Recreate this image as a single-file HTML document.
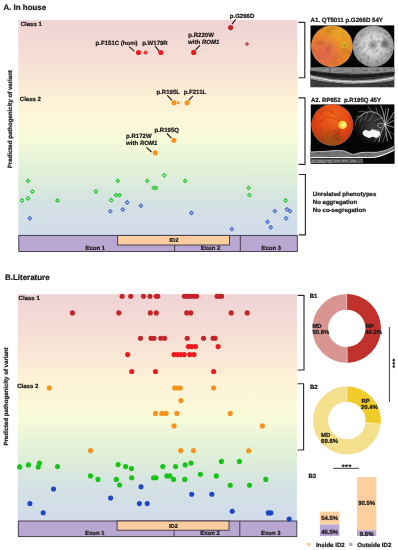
<!DOCTYPE html>
<html lang="en"><head><meta charset="utf-8"><title>Figure</title>
<style>html,body{margin:0;padding:0;background:#fff}svg{display:block}text{font-family:"Liberation Sans",Arial,sans-serif;text-rendering:geometricPrecision}</style>
</head><body>
<svg width="398" height="550" viewBox="0 0 398 550">
<defs>
<linearGradient id="bg" x1="0" y1="0" x2="0" y2="1">
<stop offset="0" stop-color="#f0d3d5"/>
<stop offset="0.19" stop-color="#f5dfd5"/>
<stop offset="0.37" stop-color="#fdf1d6"/>
<stop offset="0.53" stop-color="#f9fbd9"/>
<stop offset="0.70" stop-color="#e0f1d7"/>
<stop offset="0.84" stop-color="#d5e2e2"/>
<stop offset="1" stop-color="#d1dbec"/>
</linearGradient>
<radialGradient id="f1" cx="0.45" cy="0.55" r="0.6">
<stop offset="0" stop-color="#e8763a"/><stop offset="0.6" stop-color="#ea7e28"/><stop offset="1" stop-color="#e48824"/></radialGradient>
<radialGradient id="f1b" cx="0.72" cy="0.18" r="0.62">
<stop offset="0" stop-color="#e8ac24" stop-opacity="0.85"/><stop offset="1" stop-color="#e6b020" stop-opacity="0"/></radialGradient>
<radialGradient id="f1c" cx="0.3" cy="0.7" r="0.5">
<stop offset="0" stop-color="#e06050" stop-opacity="0.85"/><stop offset="1" stop-color="#e06458" stop-opacity="0"/></radialGradient>
<radialGradient id="g1" cx="0.5" cy="0.47" r="0.52">
<stop offset="0" stop-color="#dedede"/><stop offset="0.45" stop-color="#d4d4d4"/><stop offset="0.72" stop-color="#b0b0b0"/><stop offset="1" stop-color="#909090"/></radialGradient>
<radialGradient id="f2" cx="0.52" cy="0.32" r="0.72">
<stop offset="0" stop-color="#f26a1c"/><stop offset="0.5" stop-color="#e84a16"/><stop offset="1" stop-color="#c02c0e"/></radialGradient>
<radialGradient id="f2b" cx="0.45" cy="0.95" r="0.45">
<stop offset="0" stop-color="#8a5a1c" stop-opacity="0.85"/><stop offset="1" stop-color="#8a5a1c" stop-opacity="0"/></radialGradient>
<radialGradient id="od2" cx="0.68" cy="0.5" r="0.6">
<stop offset="0" stop-color="#ffffff"/><stop offset="0.28" stop-color="#fdec66"/><stop offset="0.75" stop-color="#f8c62c"/><stop offset="1" stop-color="#f09020" stop-opacity="0"/></radialGradient>
<radialGradient id="ang" cx="0.5" cy="0.5" r="0.5">
<stop offset="0" stop-color="#3c3c3c"/><stop offset="0.55" stop-color="#262626"/><stop offset="1" stop-color="#050505"/></radialGradient>
<filter id="bl1" x="-20%" y="-20%" width="140%" height="140%"><feGaussianBlur stdDeviation="0.6"/></filter>
<filter id="bl2" x="-20%" y="-20%" width="140%" height="140%"><feGaussianBlur stdDeviation="1.1"/></filter>
<filter id="bl3" x="-5%" y="-5%" width="110%" height="110%"><feGaussianBlur stdDeviation="0.35"/></filter>
<filter id="tex" x="0" y="0" width="100%" height="100%" color-interpolation-filters="sRGB"><feTurbulence type="fractalNoise" baseFrequency="0.3" numOctaves="2" seed="7" result="n"/><feColorMatrix in="n" type="matrix" values="0.8 0 0 0 0.6  0.8 0 0 0 0.6  0.8 0 0 0 0.6  0 0 0 0 1" result="n2"/><feBlend in="SourceGraphic" in2="n2" mode="multiply" result="b"/><feComposite in="b" in2="SourceGraphic" operator="in"/></filter>
<filter id="tex2" x="0" y="0" width="100%" height="100%" color-interpolation-filters="sRGB"><feTurbulence type="fractalNoise" baseFrequency="0.25 0.6" numOctaves="2" seed="11" result="n"/><feColorMatrix in="n" type="matrix" values="1.0 0 0 0 0.5  1.0 0 0 0 0.5  1.0 0 0 0 0.5  0 0 0 0 1" result="n2"/><feBlend in="SourceGraphic" in2="n2" mode="multiply" result="b"/><feComposite in="b" in2="SourceGraphic" operator="in"/></filter>
<filter id="tex3" x="0" y="0" width="100%" height="100%" color-interpolation-filters="sRGB"><feTurbulence type="fractalNoise" baseFrequency="0.12" numOctaves="2" seed="5" result="n"/><feColorMatrix in="n" type="matrix" values="0.4 0 0 0 0.8  0.4 0 0 0 0.8  0.4 0 0 0 0.8  0 0 0 0 1" result="n2"/><feBlend in="SourceGraphic" in2="n2" mode="multiply" result="b"/><feComposite in="b" in2="SourceGraphic" operator="in"/></filter>
<clipPath id="cA1"><rect x="310.3" y="25.2" width="84.2" height="62.2"/></clipPath>
<clipPath id="cA2"><rect x="310.5" y="104.2" width="84.1" height="59.6"/></clipPath>

</defs>
<text x="3.4" y="9.7" font-size="7.95" font-weight="bold" text-anchor="start" fill="#1a1718" stroke="#1a1718" stroke-width="0.22" >A. In house</text>
<text x="5.0" y="280.1" font-size="7.95" font-weight="bold" text-anchor="start" fill="#1a1718" stroke="#1a1718" stroke-width="0.22" >B.Literature</text>
<rect x="18.3" y="20.1" width="278.9" height="215.3" fill="url(#bg)"/>
<text x="20.7" y="26.2" font-size="6.05" font-weight="bold" text-anchor="start" fill="#1a1718" stroke="#1a1718" stroke-width="0.22" >Class 1</text>
<text x="19.8" y="100.6" font-size="6.05" font-weight="bold" text-anchor="start" fill="#1a1718" stroke="#1a1718" stroke-width="0.22" >Class 2</text>
<text transform="translate(11.9,119.2) rotate(-90)" font-size="6.1" stroke="#1a1718" stroke-width="0.22" font-weight="bold" text-anchor="middle" fill="#1a1718">Predicted pathogenicity of variant</text>
<g transform="translate(0.0,0)">
<rect x="18.8" y="235.4" width="278.5" height="16.099999999999994" fill="#b8a8d1" stroke="#3a3340" stroke-width="0.9"/>
<rect x="117.6" y="235.4" width="111.9" height="9.599999999999994" fill="#fccd9e" stroke="#3a3340" stroke-width="0.9"/>
<line x1="174.6" y1="245.0" x2="174.6" y2="251.5" stroke="#3a3340" stroke-width="0.9"/>
<line x1="240.3" y1="235.4" x2="240.3" y2="251.5" stroke="#3a3340" stroke-width="0.9"/>
<text x="173.9" y="241.9" font-size="5.8" font-weight="bold" text-anchor="middle" fill="#1a1718" stroke="#1a1718" stroke-width="0.22" >ID2</text>
<text x="95.3" y="249.9" font-size="5.95" font-weight="bold" text-anchor="middle" fill="#1a1718" stroke="#1a1718" stroke-width="0.22" >Exon 1</text>
<text x="210.6" y="249.9" font-size="5.95" font-weight="bold" text-anchor="middle" fill="#1a1718" stroke="#1a1718" stroke-width="0.22" >Exon 2</text>
<text x="271.3" y="249.9" font-size="5.95" font-weight="bold" text-anchor="middle" fill="#1a1718" stroke="#1a1718" stroke-width="0.22" >Exon 3</text>
</g>
<text x="95.6" y="45.4" font-size="6.05" font-weight="bold" text-anchor="start" fill="#1a1718" stroke="#1a1718" stroke-width="0.22" >p.F151C (hom)</text>
<text x="142.2" y="45.4" font-size="6.05" font-weight="bold" text-anchor="start" fill="#1a1718" stroke="#1a1718" stroke-width="0.22" >p.W179R</text>
<text x="188.3" y="37.1" font-size="6.05" font-weight="bold" text-anchor="start" fill="#1a1718" stroke="#1a1718" stroke-width="0.22" >p.R220W</text>
<text x="229.8" y="18.1" font-size="6.05" font-weight="bold" text-anchor="start" fill="#1a1718" stroke="#1a1718" stroke-width="0.22" >p.G266D</text>
<text x="156.5" y="94.4" font-size="6.05" font-weight="bold" text-anchor="start" fill="#1a1718" stroke="#1a1718" stroke-width="0.22" >p.R195L</text>
<text x="183.7" y="94.4" font-size="6.05" font-weight="bold" text-anchor="start" fill="#1a1718" stroke="#1a1718" stroke-width="0.22" >p.F211L</text>
<text x="154.5" y="131.5" font-size="6.05" font-weight="bold" text-anchor="start" fill="#1a1718" stroke="#1a1718" stroke-width="0.22" >p.R195Q</text>
<text x="126.1" y="138.1" font-size="6.05" font-weight="bold" text-anchor="start" fill="#1a1718" stroke="#1a1718" stroke-width="0.22" >p.R172W</text>
<text x="188.1" y="43.9" font-size="6.05" font-weight="bold" fill="#1a1718" stroke="#1a1718" stroke-width="0.22">with <tspan font-style="italic">ROM1</tspan></text>
<text x="126.1" y="144.8" font-size="6.05" font-weight="bold" fill="#1a1718" stroke="#1a1718" stroke-width="0.22">with <tspan font-style="italic">ROM1</tspan></text>
<line x1="129.2" y1="46.6" x2="134.2" y2="51.2" stroke="#1a1718" stroke-width="1.1"/>
<line x1="155.2" y1="46.2" x2="158.9" y2="50.8" stroke="#1a1718" stroke-width="1.1"/>
<line x1="200.0" y1="45.3" x2="195.5" y2="49.8" stroke="#1a1718" stroke-width="1.1"/>
<line x1="235.7" y1="19.4" x2="232.0" y2="24.2" stroke="#1a1718" stroke-width="1.1"/>
<line x1="167.3" y1="95.3" x2="171.9" y2="100.3" stroke="#1a1718" stroke-width="1.1"/>
<line x1="192.9" y1="95.9" x2="188.8" y2="100.4" stroke="#1a1718" stroke-width="1.1"/>
<line x1="166.8" y1="133.3" x2="171.3" y2="138.0" stroke="#1a1718" stroke-width="1.1"/>
<line x1="146.4" y1="147.4" x2="151.5" y2="152.0" stroke="#1a1718" stroke-width="1.1"/>
<circle cx="138.5" cy="52.5" r="2.55" fill="#ee1a1e"/>
<circle cx="160.8" cy="52.5" r="2.55" fill="#ee1a1e"/>
<circle cx="193.7" cy="52.4" r="2.55" fill="#ee1a1e"/>
<circle cx="230.6" cy="27.6" r="2.55" fill="#c22428"/>
<path d="M144.00 52.6L145.6 51.00L147.20 52.6L145.6 54.20Z" fill="#fff" fill-opacity="0.6" stroke="#ee1a1e" stroke-width="1.15" stroke-linejoin="round"/>
<path d="M245.65 44.1L247 42.75L248.35 44.1L247 45.45Z" fill="#fff" fill-opacity="0.6" stroke="#c42c3c" stroke-width="1.1" stroke-linejoin="round"/>
<circle cx="173.9" cy="102.7" r="2.55" fill="#f8921c"/>
<circle cx="187.1" cy="102.7" r="2.55" fill="#f8921c"/>
<circle cx="173.9" cy="140.2" r="2.55" fill="#f8921c"/>
<circle cx="155.3" cy="152.7" r="2.55" fill="#f8921c"/>
<path d="M177.00 102.8L178.2 101.60L179.40 102.8L178.2 104.00Z" fill="#fff" fill-opacity="0.6" stroke="#f8921c" stroke-width="1.05" stroke-linejoin="round"/>
<path d="M116.10 180.9L117.8 179.20L119.50 180.9L117.8 182.60Z" fill="#fff" fill-opacity="0.6" stroke="#2fc83a" stroke-width="1.25" stroke-linejoin="round"/>
<path d="M145.50 180.9L147.2 179.20L148.90 180.9L147.2 182.60Z" fill="#fff" fill-opacity="0.6" stroke="#2fc83a" stroke-width="1.25" stroke-linejoin="round"/>
<path d="M162.60 175.3L164.29999999999998 173.60L166.00 175.3L164.29999999999998 177.00Z" fill="#fff" fill-opacity="0.6" stroke="#2fc83a" stroke-width="1.25" stroke-linejoin="round"/>
<path d="M183.40 180.9L185.1 179.20L186.80 180.9L185.1 182.60Z" fill="#fff" fill-opacity="0.6" stroke="#2fc83a" stroke-width="1.25" stroke-linejoin="round"/>
<path d="M152.00 187.9L153.7 186.20L155.40 187.9L153.7 189.60Z" fill="#fff" fill-opacity="0.6" stroke="#2fc83a" stroke-width="1.25" stroke-linejoin="round"/>
<path d="M154.30 187.9L156.0 186.20L157.70 187.9L156.0 189.60Z" fill="#fff" fill-opacity="0.6" stroke="#2fc83a" stroke-width="1.25" stroke-linejoin="round"/>
<path d="M114.30 195.2L116.0 193.50L117.70 195.2L116.0 196.90Z" fill="#fff" fill-opacity="0.6" stroke="#2fc83a" stroke-width="1.25" stroke-linejoin="round"/>
<path d="M117.80 195.2L119.5 193.50L121.20 195.2L119.5 196.90Z" fill="#fff" fill-opacity="0.6" stroke="#2fc83a" stroke-width="1.25" stroke-linejoin="round"/>
<path d="M109.60 200.2L111.3 198.50L113.00 200.2L111.3 201.90Z" fill="#fff" fill-opacity="0.6" stroke="#2fc83a" stroke-width="1.25" stroke-linejoin="round"/>
<path d="M26.40 180.9L28.099999999999998 179.20L29.80 180.9L28.099999999999998 182.60Z" fill="#fff" fill-opacity="0.6" stroke="#2fc83a" stroke-width="1.25" stroke-linejoin="round"/>
<path d="M30.70 191.5L32.400000000000006 189.80L34.10 191.5L32.400000000000006 193.20Z" fill="#fff" fill-opacity="0.6" stroke="#2fc83a" stroke-width="1.25" stroke-linejoin="round"/>
<path d="M26.40 198.5L28.099999999999998 196.80L29.80 198.5L28.099999999999998 200.20Z" fill="#fff" fill-opacity="0.6" stroke="#2fc83a" stroke-width="1.25" stroke-linejoin="round"/>
<path d="M20.40 200.5L22.099999999999998 198.80L23.80 200.5L22.099999999999998 202.20Z" fill="#fff" fill-opacity="0.6" stroke="#2fc83a" stroke-width="1.25" stroke-linejoin="round"/>
<path d="M55.80 200.5L57.5 198.80L59.20 200.5L57.5 202.20Z" fill="#fff" fill-opacity="0.6" stroke="#2fc83a" stroke-width="1.25" stroke-linejoin="round"/>
<path d="M94.20 191.5L95.9 189.80L97.60 191.5L95.9 193.20Z" fill="#fff" fill-opacity="0.6" stroke="#2fc83a" stroke-width="1.25" stroke-linejoin="round"/>
<path d="M247.00 187.9L248.7 186.20L250.40 187.9L248.7 189.60Z" fill="#fff" fill-opacity="0.6" stroke="#2fc83a" stroke-width="1.25" stroke-linejoin="round"/>
<path d="M247.70 195.2L249.39999999999998 193.50L251.10 195.2L249.39999999999998 196.90Z" fill="#fff" fill-opacity="0.6" stroke="#2fc83a" stroke-width="1.25" stroke-linejoin="round"/>
<path d="M283.90 200.5L285.59999999999997 198.80L287.30 200.5L285.59999999999997 202.20Z" fill="#fff" fill-opacity="0.6" stroke="#2fc83a" stroke-width="1.25" stroke-linejoin="round"/>
<path d="M125.40 202.5L127.10000000000001 200.80L128.80 202.5L127.10000000000001 204.20Z" fill="#fff" fill-opacity="0.6" stroke="#4a6ac8" stroke-width="1.25" stroke-linejoin="round"/>
<path d="M139.20 205.7L140.89999999999998 204.00L142.60 205.7L140.89999999999998 207.40Z" fill="#fff" fill-opacity="0.6" stroke="#4a6ac8" stroke-width="1.25" stroke-linejoin="round"/>
<path d="M121.10 209.5L122.8 207.80L124.50 209.5L122.8 211.20Z" fill="#fff" fill-opacity="0.6" stroke="#4a6ac8" stroke-width="1.25" stroke-linejoin="round"/>
<path d="M108.60 211.3L110.3 209.60L112.00 211.3L110.3 213.00Z" fill="#fff" fill-opacity="0.6" stroke="#4a6ac8" stroke-width="1.25" stroke-linejoin="round"/>
<path d="M189.70 213L191.39999999999998 211.30L193.10 213L191.39999999999998 214.70Z" fill="#fff" fill-opacity="0.6" stroke="#4a6ac8" stroke-width="1.25" stroke-linejoin="round"/>
<path d="M28.10 218.3L29.8 216.60L31.50 218.3L29.8 220.00Z" fill="#fff" fill-opacity="0.6" stroke="#4a6ac8" stroke-width="1.25" stroke-linejoin="round"/>
<path d="M273.10 211.1L274.8 209.40L276.50 211.1L274.8 212.80Z" fill="#fff" fill-opacity="0.6" stroke="#4a6ac8" stroke-width="1.25" stroke-linejoin="round"/>
<path d="M285.20 209.3L286.9 207.60L288.60 209.3L286.9 211.00Z" fill="#fff" fill-opacity="0.6" stroke="#4a6ac8" stroke-width="1.25" stroke-linejoin="round"/>
<path d="M288.40 211.1L290.09999999999997 209.40L291.80 211.1L290.09999999999997 212.80Z" fill="#fff" fill-opacity="0.6" stroke="#4a6ac8" stroke-width="1.25" stroke-linejoin="round"/>
<path d="M284.40 218.3L286.09999999999997 216.60L287.80 218.3L286.09999999999997 220.00Z" fill="#fff" fill-opacity="0.6" stroke="#4a6ac8" stroke-width="1.25" stroke-linejoin="round"/>
<path d="M265.80 221.9L267.5 220.20L269.20 221.9L267.5 223.60Z" fill="#fff" fill-opacity="0.6" stroke="#4a6ac8" stroke-width="1.25" stroke-linejoin="round"/>
<path d="M269.10 227.4L270.8 225.70L272.50 227.4L270.8 229.10Z" fill="#fff" fill-opacity="0.6" stroke="#4a6ac8" stroke-width="1.25" stroke-linejoin="round"/>
<path d="M230.20 229.1L231.89999999999998 227.40L233.60 229.1L231.89999999999998 230.80Z" fill="#fff" fill-opacity="0.6" stroke="#4a6ac8" stroke-width="1.25" stroke-linejoin="round"/>
<path d="M298.4 22.3H304.8V77.7H298.4" fill="none" stroke="#2e2a2c" stroke-width="1.15"/>
<path d="M298.5 97.8H305.0V164.4H298.5" fill="none" stroke="#2e2a2c" stroke-width="1.15"/>
<path d="M298.8 174.5H305.4V234.8H298.8" fill="none" stroke="#2e2a2c" stroke-width="1.15"/>
<text x="310.6" y="22.4" font-size="6.15" font-weight="bold" text-anchor="start" fill="#1a1718" stroke="#1a1718" stroke-width="0.22" >A1. QT5011 p.G266D 54Y</text>
<g clip-path="url(#cA1)">
<rect x="310.3" y="25.2" width="84.2" height="62.2" fill="#050505"/>
<g filter="url(#tex3)">
<circle cx="332" cy="46.2" r="20.7" fill="url(#f1)"/>
<circle cx="332" cy="46.2" r="20.7" fill="url(#f1b)"/>
<circle cx="332" cy="46.2" r="20.7" fill="url(#f1c)"/>
</g>
<circle cx="344.1" cy="44.9" r="2.9" fill="#deb21c" filter="url(#bl1)"/>
<circle cx="344.5" cy="45.2" r="1.5" fill="#8f9a34" filter="url(#bl3)"/>
<g filter="url(#tex)">
<circle cx="373.3" cy="46.3" r="20.5" fill="url(#g1)"/>
</g>
<circle cx="372.9" cy="44.9" r="4.3" fill="#9a9a9a" filter="url(#bl2)"/>
<circle cx="372.9" cy="44.9" r="1.0" fill="#6a6a6a" filter="url(#bl1)"/>
<circle cx="385.0" cy="43.9" r="3.8" fill="#6e6e6e" filter="url(#bl2)"/>
<g filter="url(#tex2)">
<rect x="310.3" y="67.6" width="84.2" height="19.8" fill="#3c3c3c"/>
<path d="M310 67.6H395V71.5Q352 76.5 310 70.5Z" fill="#8a8a8a" filter="url(#bl3)"/>
<path d="M310 71Q352 78 395 72V74.5Q352 81.5 310 74Z" fill="#1e1e1e" filter="url(#bl1)"/>
<path d="M310 75Q352 85 395 76V80Q352 88 310 79Z" fill="#9a9a9a" filter="url(#bl1)"/>
</g>
<path d="M310 76.6Q352 87.0 395 77.8" fill="none" stroke="#e4e4e4" stroke-width="1.0" filter="url(#bl3)"/>
</g>
<text x="311" y="101.9" font-size="6.05" font-weight="bold" text-anchor="start" fill="#1a1718" stroke="#1a1718" stroke-width="0.22" xml:space="preserve">A2. RP852  p.R195Q 45Y</text>
<g clip-path="url(#cA2)">
<rect x="310.5" y="104.2" width="84.1" height="59.6" fill="#050505"/>
<g filter="url(#tex3)">
<circle cx="332.3" cy="124.9" r="20.8" fill="url(#f2)"/>
<circle cx="332.3" cy="124.9" r="20.8" fill="url(#f2b)"/>
</g>
<path d="M344 125Q340 133 330 139M344 125Q338 131 325 134M344 124Q340 116 330 111M344 124Q337 118 326 117" fill="none" stroke="#a8260a" stroke-width="0.55" opacity="0.75"/>
<ellipse cx="341.7" cy="124.9" rx="5.2" ry="4.4" fill="url(#od2)"/>
<circle cx="373" cy="125.5" r="19.5" fill="url(#ang)"/>
<g fill="none" stroke="#e6e6e6" stroke-width="0.62" stroke-linecap="round" filter="url(#bl3)">
<path d="M385.0 124.7Q382.6 118.1 380.1 115.7Q377.7 113.3 374.7 112.4Q371.7 111.5 368.7 111.8Q365.7 112.1 363.3 113.9Q360.9 115.7 357.2 119.3"/>
<path d="M385.0 124.7Q384.4 116.9 383.5 113.3Q382.6 109.7 380.8 105.4"/>
<path d="M385.0 124.7Q387.4 116.9 388.6 108.4"/>
<path d="M385.0 124.7Q391.0 118.1 394.0 112.1"/>
<path d="M385.0 124.7Q389.8 122.9 394.1 120.5"/>
<path d="M385.0 124.7Q389.8 125.9 394.1 127.5"/>
<path d="M385.0 124.7Q388.6 131.4 391.6 138.6"/>
<path d="M385.0 124.7Q386.2 132.6 387.4 141.0"/>
<path d="M385.0 124.7Q382.6 129.0 381.4 132.0Q380.2 135.0 379.0 141.6"/>
<path d="M385.0 124.7Q381.6 122.9 379.8 123.2Q378.0 123.6 377.8 124.9Q377.5 126.3 378.9 127.2Q380.2 128.0 381.4 127.4Q382.6 126.8 383.2 125.1"/>
</g>
<g fill="none" stroke="#bdbdbd" stroke-width="0.42" stroke-linecap="round" filter="url(#bl3)">
<path d="M377.7 113.3Q376.8 110.3 375.9 107.0"/>
<path d="M371.7 111.5Q369.9 109.0 368.1 106.3"/>
<path d="M365.7 112.1Q362.1 110.6 358.4 111.8"/>
<path d="M360.9 115.7Q358.4 116.3 355.8 117.1"/>
<path d="M368.1 111.8Q367.1 115.7 364.5 119.9"/>
<path d="M374.1 112.1Q372.9 116.3 369.3 120.5"/>
<path d="M382.6 118.1Q379.0 118.1 374.7 120.5"/>
<path d="M384.4 116.9Q386.2 112.1 385.9 107.2"/>
<path d="M391.0 118.1Q392.5 116.9 394.1 116.6"/>
<path d="M388.6 131.4Q391.6 132.6 394.1 135.0"/>
<path d="M382.6 129.0Q378.3 130.2 374.1 129.7"/>
<path d="M380.2 135.0Q377.1 138.6 374.1 141.6"/>
<path d="M386.2 132.6Q384.4 137.4 382.6 142.2"/>
<path d="M357.2 119.3Q355.4 122.3 354.8 125.3"/>
<path d="M363.3 113.5Q361.5 118.1 359.7 122.3"/>
</g>
<path d="M363.0 132.3 L365.1 130.2 L369.3 131.6 L372.3 129.7 L375.9 130.9 L379.3 131.6 L379.8 134.4 L378.0 136.8 L375.3 137.6 L372.3 136.2 L369.3 137.6 L365.7 136.2 L363.5 134.7Z" fill="#f6f6f6" stroke="#f6f6f6" stroke-width="1" stroke-linejoin="round" filter="url(#bl1)"/>
<circle cx="374.1" cy="137.8" r="0.9" fill="#1a1a1a" filter="url(#bl3)"/>
<rect x="310.5" y="145.7" width="84.1" height="18.1" fill="#060606"/>
<g filter="url(#tex2)">
<path d="M310 151.9Q326 151.6 338 150.3Q345 150.4 349 153Q353 155.6 356.5 153.6Q360 152.2 366 152.3H377Q386 151.2 394.6 146.2V150.2Q384 155.5 373.5 157.2H310Z" fill="#767676" filter="url(#bl3)"/>
<rect x="311" y="158.8" width="52" height="3.9" fill="#5c5c5c" filter="url(#bl3)"/>
</g>
<path d="M310 157.5H373.5Q384 156 394.6 149.8" fill="none" stroke="#f2f2f2" stroke-width="1.05" filter="url(#bl3)"/>
<path d="M310 151.9Q326 151.6 338 150.3Q345 150.4 349 153Q353 155.6 356.5 153.6Q360 152.2 366 152.3H377Q386 151.2 394.6 146.2" fill="none" stroke="#dadada" stroke-width="0.7" filter="url(#bl3)"/>
<path d="M312 160.2h4m1.5 0.6h7m2 -0.4h5m3 0.5h6m2 -0.3h5m3 0.3h5m-44 1.5h5m2 0h7m3 0h4" fill="none" stroke="#e0e0e0" stroke-width="0.8" stroke-dasharray="1.1 0.9" filter="url(#bl3)"/>
</g>
<text x="312.8" y="196.4" font-size="6.05" font-weight="bold" text-anchor="start" fill="#1a1718" stroke="#1a1718" stroke-width="0.22" >Unrelated phenotypes</text>
<text x="312.8" y="204.3" font-size="6.05" font-weight="bold" text-anchor="start" fill="#1a1718" stroke="#1a1718" stroke-width="0.22" >No aggregation</text>
<text x="312.8" y="212.4" font-size="6.05" font-weight="bold" text-anchor="start" fill="#1a1718" stroke="#1a1718" stroke-width="0.22" >No co-segregation</text>
<rect x="17.7" y="294.2" width="279.2" height="226.8" fill="url(#bg)"/>
<text x="18.6" y="300.3" font-size="6.05" font-weight="bold" text-anchor="start" fill="#1a1718" stroke="#1a1718" stroke-width="0.22" >Class 1</text>
<text x="17.2" y="388.0" font-size="6.05" font-weight="bold" text-anchor="start" fill="#1a1718" stroke="#1a1718" stroke-width="0.22" >Class 2</text>
<text transform="translate(8.2,396.5) rotate(-90)" font-size="6.1" stroke="#1a1718" stroke-width="0.22" font-weight="bold" text-anchor="middle" fill="#1a1718">Predicted pathogenicity of variant</text>
<g transform="translate(-0.5,0)">
<rect x="18.8" y="521.0" width="278.5" height="15.600000000000023" fill="#b8a8d1" stroke="#3a3340" stroke-width="0.9"/>
<rect x="117.6" y="521.0" width="111.9" height="9.200000000000045" fill="#fccd9e" stroke="#3a3340" stroke-width="0.9"/>
<line x1="174.6" y1="530.2" x2="174.6" y2="536.6" stroke="#3a3340" stroke-width="0.9"/>
<line x1="240.3" y1="521.0" x2="240.3" y2="536.6" stroke="#3a3340" stroke-width="0.9"/>
<text x="173.9" y="527.5" font-size="5.8" font-weight="bold" text-anchor="middle" fill="#1a1718" stroke="#1a1718" stroke-width="0.22" >ID2</text>
<text x="95.3" y="535.0" font-size="5.95" font-weight="bold" text-anchor="middle" fill="#1a1718" stroke="#1a1718" stroke-width="0.22" >Exon 1</text>
<text x="210.6" y="535.0" font-size="5.95" font-weight="bold" text-anchor="middle" fill="#1a1718" stroke="#1a1718" stroke-width="0.22" >Exon 2</text>
<text x="271.3" y="535.0" font-size="5.95" font-weight="bold" text-anchor="middle" fill="#1a1718" stroke="#1a1718" stroke-width="0.22" >Exon 3</text>
</g>
<circle cx="122.1" cy="296.3" r="2.55" fill="#c22428"/>
<circle cx="130.7" cy="296.3" r="2.55" fill="#c22428"/>
<circle cx="143.5" cy="296.3" r="2.55" fill="#c22428"/>
<circle cx="150" cy="296.3" r="2.55" fill="#c22428"/>
<circle cx="156.3" cy="296.3" r="2.55" fill="#c22428"/>
<circle cx="157.8" cy="296.3" r="2.55" fill="#c22428"/>
<circle cx="184.4" cy="296.3" r="2.55" fill="#c22428"/>
<circle cx="186.9" cy="296.3" r="2.55" fill="#c22428"/>
<circle cx="189.4" cy="296.3" r="2.55" fill="#c22428"/>
<circle cx="191.9" cy="296.3" r="2.55" fill="#c22428"/>
<circle cx="194.4" cy="296.3" r="2.55" fill="#c22428"/>
<circle cx="196.6" cy="296.3" r="2.55" fill="#c22428"/>
<circle cx="217.1" cy="296.3" r="2.55" fill="#c22428"/>
<circle cx="219.1" cy="296.3" r="2.55" fill="#c22428"/>
<circle cx="221.6" cy="296.3" r="2.55" fill="#c22428"/>
<circle cx="72.4" cy="312.9" r="2.55" fill="#c22428"/>
<circle cx="118.8" cy="312.9" r="2.55" fill="#c22428"/>
<circle cx="150.3" cy="312.9" r="2.55" fill="#c22428"/>
<circle cx="156.3" cy="312.9" r="2.55" fill="#c22428"/>
<circle cx="186.7" cy="312.9" r="2.55" fill="#c22428"/>
<circle cx="190.7" cy="312.9" r="2.55" fill="#c22428"/>
<circle cx="231.2" cy="312.9" r="2.55" fill="#c22428"/>
<circle cx="247.2" cy="312.9" r="2.55" fill="#c22428"/>
<circle cx="140.5" cy="338.3" r="2.55" fill="#c22428"/>
<circle cx="151" cy="338.3" r="2.55" fill="#c22428"/>
<circle cx="154" cy="338.3" r="2.55" fill="#c22428"/>
<circle cx="160.8" cy="338.3" r="2.55" fill="#c22428"/>
<circle cx="164.6" cy="338.3" r="2.55" fill="#c22428"/>
<circle cx="187.2" cy="338.3" r="2.55" fill="#c22428"/>
<circle cx="203.5" cy="338.3" r="2.55" fill="#c22428"/>
<circle cx="213.1" cy="338.3" r="2.55" fill="#c22428"/>
<circle cx="215.1" cy="338.3" r="2.55" fill="#c22428"/>
<circle cx="188.4" cy="346.6" r="2.55" fill="#ee1a1e"/>
<circle cx="191.7" cy="346.6" r="2.55" fill="#ee1a1e"/>
<circle cx="195.5" cy="346.6" r="2.55" fill="#ee1a1e"/>
<circle cx="218.1" cy="346.6" r="2.55" fill="#ee1a1e"/>
<circle cx="127.6" cy="354.6" r="2.55" fill="#ee1a1e"/>
<circle cx="174.1" cy="354.6" r="2.55" fill="#ee1a1e"/>
<circle cx="177.4" cy="354.6" r="2.55" fill="#ee1a1e"/>
<circle cx="180.9" cy="354.6" r="2.55" fill="#ee1a1e"/>
<circle cx="184.2" cy="354.6" r="2.55" fill="#ee1a1e"/>
<circle cx="189.7" cy="354.6" r="2.55" fill="#ee1a1e"/>
<circle cx="194" cy="354.6" r="2.55" fill="#ee1a1e"/>
<circle cx="131.7" cy="371.5" r="2.55" fill="#ee1a1e"/>
<circle cx="155.5" cy="371.5" r="2.55" fill="#ee1a1e"/>
<circle cx="213.6" cy="371.5" r="2.55" fill="#ee1a1e"/>
<circle cx="49.2" cy="388" r="2.55" fill="#f8921c"/>
<circle cx="174.6" cy="388" r="2.55" fill="#f8921c"/>
<circle cx="177.4" cy="388" r="2.55" fill="#f8921c"/>
<circle cx="180.2" cy="388" r="2.55" fill="#f8921c"/>
<circle cx="213.6" cy="388" r="2.55" fill="#f8921c"/>
<circle cx="180.9" cy="400.6" r="2.55" fill="#f8921c"/>
<circle cx="155.5" cy="413.4" r="2.55" fill="#f8921c"/>
<circle cx="161.8" cy="413.4" r="2.55" fill="#f8921c"/>
<circle cx="166.1" cy="413.4" r="2.55" fill="#f8921c"/>
<circle cx="176.9" cy="413.4" r="2.55" fill="#f8921c"/>
<circle cx="230.2" cy="413.4" r="2.55" fill="#f8921c"/>
<circle cx="174.1" cy="425.9" r="2.55" fill="#f8921c"/>
<circle cx="262.3" cy="425.9" r="2.55" fill="#f8921c"/>
<circle cx="90.5" cy="450.6" r="2.55" fill="#f8921c"/>
<circle cx="180.7" cy="450.6" r="2.55" fill="#f8921c"/>
<circle cx="193.5" cy="450.6" r="2.55" fill="#f8921c"/>
<circle cx="248.7" cy="450.8" r="2.55" fill="#f8921c"/>
<circle cx="19.6" cy="466.9" r="2.55" fill="#16c416"/>
<circle cx="28.4" cy="464.9" r="2.55" fill="#16c416"/>
<circle cx="39.4" cy="463.1" r="2.55" fill="#16c416"/>
<circle cx="38.2" cy="466.9" r="2.55" fill="#16c416"/>
<circle cx="57.5" cy="466.6" r="2.55" fill="#16c416"/>
<circle cx="90.5" cy="475.9" r="2.55" fill="#16c416"/>
<circle cx="98" cy="479.4" r="2.55" fill="#16c416"/>
<circle cx="118.1" cy="464.6" r="2.55" fill="#16c416"/>
<circle cx="125.6" cy="466.6" r="2.55" fill="#16c416"/>
<circle cx="131.4" cy="468.6" r="2.55" fill="#16c416"/>
<circle cx="162.8" cy="466.6" r="2.55" fill="#16c416"/>
<circle cx="175.6" cy="466.6" r="2.55" fill="#16c416"/>
<circle cx="185.2" cy="464.9" r="2.55" fill="#16c416"/>
<circle cx="191" cy="463.1" r="2.55" fill="#16c416"/>
<circle cx="200.4" cy="474.2" r="2.55" fill="#16c416"/>
<circle cx="116.3" cy="479.4" r="2.55" fill="#16c416"/>
<circle cx="131.7" cy="477.7" r="2.55" fill="#16c416"/>
<circle cx="119.6" cy="485" r="2.55" fill="#16c416"/>
<circle cx="153.5" cy="477.7" r="2.55" fill="#16c416"/>
<circle cx="156" cy="477.7" r="2.55" fill="#16c416"/>
<circle cx="166.8" cy="475.9" r="2.55" fill="#16c416"/>
<circle cx="169.8" cy="475.9" r="2.55" fill="#16c416"/>
<circle cx="173.6" cy="479.4" r="2.55" fill="#16c416"/>
<circle cx="184.7" cy="479.4" r="2.55" fill="#16c416"/>
<circle cx="221.4" cy="461.4" r="2.55" fill="#16c416"/>
<circle cx="239.4" cy="461.4" r="2.55" fill="#16c416"/>
<circle cx="216.3" cy="475.9" r="2.55" fill="#16c416"/>
<circle cx="265.8" cy="479.4" r="2.55" fill="#16c416"/>
<circle cx="230.2" cy="485.2" r="2.55" fill="#16c416"/>
<circle cx="249.5" cy="485.2" r="2.55" fill="#16c416"/>
<circle cx="53.5" cy="489" r="2.55" fill="#1e46c4"/>
<circle cx="29.9" cy="503.6" r="2.55" fill="#1e46c4"/>
<circle cx="43.2" cy="512.7" r="2.55" fill="#1e46c4"/>
<circle cx="141" cy="486.7" r="2.55" fill="#1e46c4"/>
<circle cx="110.6" cy="498" r="2.55" fill="#1e46c4"/>
<circle cx="139.4" cy="503.6" r="2.55" fill="#1e46c4"/>
<circle cx="147.2" cy="503.6" r="2.55" fill="#1e46c4"/>
<circle cx="191.7" cy="494.3" r="2.55" fill="#1e46c4"/>
<circle cx="211.8" cy="494.3" r="2.55" fill="#1e46c4"/>
<circle cx="232.2" cy="511.2" r="2.55" fill="#1e46c4"/>
<circle cx="268.3" cy="512.9" r="2.55" fill="#1e46c4"/>
<circle cx="270.9" cy="512.9" r="2.55" fill="#1e46c4"/>
<circle cx="289.2" cy="519" r="2.55" fill="#1e46c4"/>
<path d="M297.6 295.4H304.0V370.0H297.6" fill="none" stroke="#2e2a2c" stroke-width="1.15"/>
<path d="M297.6 383.7H303.6V450.0H297.6" fill="none" stroke="#2e2a2c" stroke-width="1.15"/>
<circle cx="346.7" cy="328.4" r="26.5" fill="none" stroke="#d99591" stroke-width="15.599999999999998"/>
<path d="M346.70 294.10A34.3 34.3 0 0 1 347.35 362.69L347.05 347.10A18.7 18.7 0 0 0 346.70 309.70Z" fill="#c1322d"/>
<path d="M346.70 294.10L346.70 309.70M347.35 362.69L347.05 347.10" stroke="#fff" stroke-width="0.6" opacity="0.85"/>
<circle cx="346.9" cy="420.5" r="26.35" fill="none" stroke="#f3df8c" stroke-width="15.099999999999998"/>
<path d="M346.90 386.60A33.9 33.9 0 0 1 380.58 424.33L365.58 422.62A18.8 18.8 0 0 0 346.90 401.70Z" fill="#f0cc2a"/>
<path d="M346.90 386.60L346.90 401.70M380.58 424.33L365.58 422.62" stroke="#fff" stroke-width="0.6" opacity="0.85"/>
<text x="309.7" y="298.2" font-size="6.05" font-weight="bold" text-anchor="start" fill="#1a1718" stroke="#1a1718" stroke-width="0.22" >B1</text>
<text x="309.9" y="389.4" font-size="6.05" font-weight="bold" text-anchor="start" fill="#1a1718" stroke="#1a1718" stroke-width="0.22" >B2</text>
<text x="308.5" y="477.9" font-size="6.05" font-weight="bold" text-anchor="start" fill="#1a1718" stroke="#1a1718" stroke-width="0.22" >B3</text>
<text x="312.4" y="327.9" font-size="5.95" font-weight="bold" text-anchor="start" fill="#1a1718" stroke="#1a1718" stroke-width="0.22" >MD</text>
<text x="312.4" y="334.2" font-size="5.95" font-weight="bold" text-anchor="start" fill="#1a1718" stroke="#1a1718" stroke-width="0.22" >50.8%</text>
<text x="365.8" y="327.9" font-size="5.95" font-weight="bold" text-anchor="start" fill="#1a1718" stroke="#1a1718" stroke-width="0.22" >RP</text>
<text x="365.3" y="334.2" font-size="5.95" font-weight="bold" text-anchor="start" fill="#1a1718" stroke="#1a1718" stroke-width="0.22" >49.2%</text>
<text x="361.4" y="402.6" font-size="6.0" font-weight="bold" text-anchor="start" fill="#1a1718" stroke="#1a1718" stroke-width="0.22" >RP</text>
<text x="360.8" y="408.9" font-size="6.0" font-weight="bold" text-anchor="start" fill="#1a1718" stroke="#1a1718" stroke-width="0.22" >30.4%</text>
<text x="321.1" y="437.0" font-size="6.0" font-weight="bold" text-anchor="start" fill="#1a1718" stroke="#1a1718" stroke-width="0.22" >MD</text>
<text x="321.1" y="443.1" font-size="6.0" font-weight="bold" text-anchor="start" fill="#1a1718" stroke="#1a1718" stroke-width="0.22" >69.6%</text>
<line x1="389.4" y1="327" x2="389.4" y2="402" stroke="#1a1718" stroke-width="0.85"/>
<text transform="translate(398.0,363.3) rotate(-90)" font-size="8.5" font-weight="bold" text-anchor="middle" fill="#1a1718">***</text>
<line x1="333.2" y1="468.3" x2="359.2" y2="468.3" stroke="#1a1718" stroke-width="0.85"/>
<text x="346.5" y="470.1" font-size="8.5" font-weight="bold" text-anchor="middle" fill="#1a1718" stroke="#1a1718" stroke-width="0" >***</text>
<rect x="319.9" y="511.6" width="19.5" height="13.0" fill="#fdce9e"/>
<rect x="319.9" y="524.6" width="19.5" height="11.4" fill="#b8a6d4"/>
<rect x="357" y="477.1" width="19.3" height="53.2" fill="#fdce9e"/>
<rect x="357" y="530.3" width="19.3" height="5.7" fill="#b8a6d4"/>
<text x="329.7" y="520.1" font-size="6.0" font-weight="bold" text-anchor="middle" fill="#1a1718" stroke="#1a1718" stroke-width="0.22" >54.5%</text>
<text x="329.7" y="533.9" font-size="6.0" font-weight="bold" text-anchor="middle" fill="#1a1718" stroke="#1a1718" stroke-width="0.22" >45.5%</text>
<text x="366.7" y="505.2" font-size="6.0" font-weight="bold" text-anchor="middle" fill="#1a1718" stroke="#1a1718" stroke-width="0.22" >90.5%</text>
<text x="366.7" y="535.5" font-size="6.0" font-weight="bold" text-anchor="middle" fill="#1a1718" stroke="#1a1718" stroke-width="0.22" >9.5%</text>
<rect x="306.8" y="542.7" width="3.6" height="3.3" fill="#fdce9e"/>
<rect x="349.1" y="542.7" width="3.4" height="3.3" fill="#b8a6d4"/>
<text x="315.9" y="546.5" font-size="6.1" font-weight="bold" text-anchor="start" fill="#1a1718" stroke="#1a1718" stroke-width="0.22" >Inside ID2</text>
<text x="357.2" y="546.5" font-size="6.15" font-weight="bold" text-anchor="start" fill="#1a1718" stroke="#1a1718" stroke-width="0.22" >Outside ID2</text>
</svg></body></html>
